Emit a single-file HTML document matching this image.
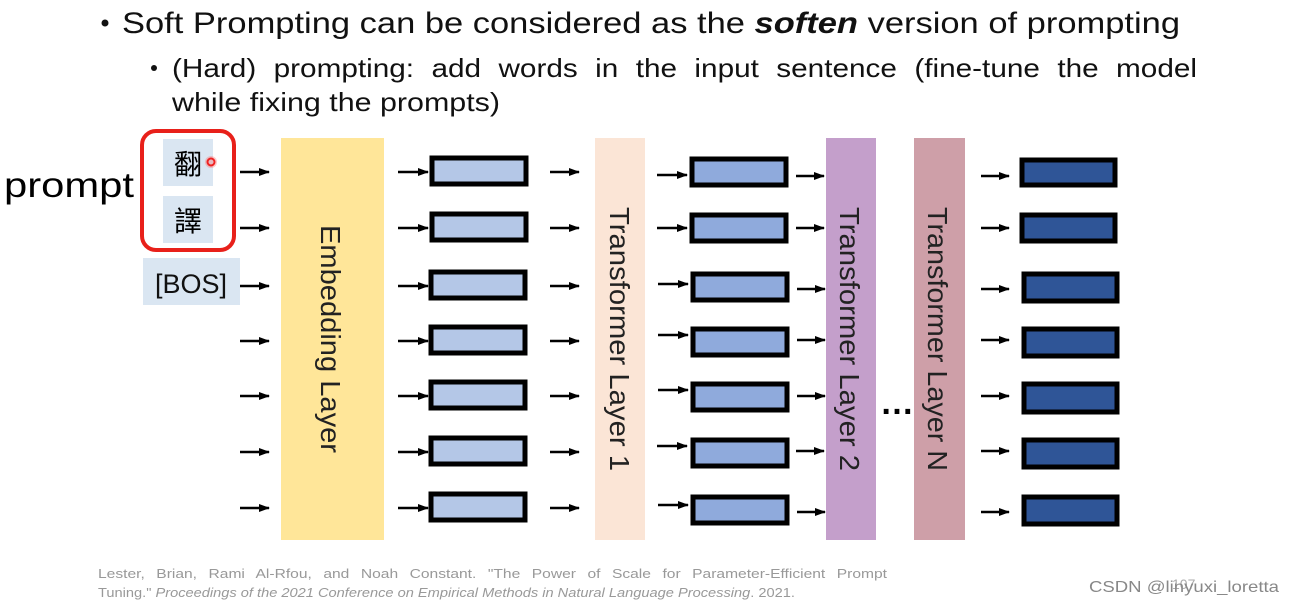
<!DOCTYPE html>
<html><head><meta charset="utf-8"><style>
body{margin:0;background:#fff}
svg{display:block}
</style></head><body>
<svg width="1294" height="607" viewBox="0 0 1294 607" xmlns="http://www.w3.org/2000/svg" font-family="Liberation Sans, sans-serif">
<defs>
<marker id="a" markerWidth="11" markerHeight="10" refX="10" refY="5" orient="auto" markerUnits="userSpaceOnUse"><path d="M0,1 L11,5 L0,9 z" fill="#000"/></marker>
</defs>
<circle cx="105" cy="23" r="3.5" fill="#111"/>
<text x="122" y="33" font-size="30" fill="#111" textLength="1058" lengthAdjust="spacingAndGlyphs">Soft Prompting can be considered as the <tspan font-weight="bold" font-style="italic">soften</tspan> version of prompting</text>
<circle cx="154" cy="68" r="3" fill="#111"/>
<text x="172" y="77" font-size="26" fill="#111" textLength="1025" lengthAdjust="spacingAndGlyphs" word-spacing="8">(Hard) prompting: add words in the input sentence (fine-tune the model</text>
<text x="172" y="111" font-size="26" fill="#111" textLength="328" lengthAdjust="spacingAndGlyphs">while fixing the prompts)</text>
<text x="4" y="197" font-size="35" fill="#000" textLength="130" lengthAdjust="spacingAndGlyphs">prompt</text>
<rect x="163" y="139" width="50" height="47" fill="#DAE6F2"/>
<rect x="163" y="196" width="50" height="47" fill="#DAE6F2"/>
<text x="188" y="174" font-size="28" text-anchor="middle" font-family="Noto Sans CJK TC, sans-serif">翻</text>
<text x="188" y="231" font-size="28" text-anchor="middle" font-family="Noto Sans CJK TC, sans-serif">譯</text>
<circle cx="211" cy="162" r="6" fill="#f66" opacity="0.35"/>
<circle cx="211" cy="162" r="3.5" fill="none" stroke="#e22" stroke-width="2"/>
<rect x="142" y="131" width="92" height="119" rx="14" fill="none" stroke="#E8201A" stroke-width="4"/>
<rect x="143" y="258" width="97" height="47" fill="#DAE6F2"/>
<text x="191" y="293" font-size="27" text-anchor="middle" fill="#111">[BOS]</text>
<rect x="281" y="138" width="103" height="402" fill="#FFE699"/>
<text transform="translate(321,339) rotate(90)" font-size="28" text-anchor="middle" fill="#222" textLength="228" lengthAdjust="spacingAndGlyphs">Embedding Layer</text>
<rect x="595" y="138" width="50" height="402" fill="#FBE5D6"/>
<text transform="translate(610,339) rotate(90)" font-size="28" text-anchor="middle" fill="#222" textLength="264" lengthAdjust="spacingAndGlyphs">Transformer Layer 1</text>
<rect x="826" y="138" width="50" height="402" fill="#C49FCB"/>
<text transform="translate(840,339) rotate(90)" font-size="28" text-anchor="middle" fill="#222" textLength="264" lengthAdjust="spacingAndGlyphs">Transformer Layer 2</text>
<rect x="914" y="138" width="51" height="402" fill="#CE9FA8"/>
<text transform="translate(928,339) rotate(90)" font-size="28" text-anchor="middle" fill="#222" textLength="264" lengthAdjust="spacingAndGlyphs">Transformer Layer N</text>
<text x="897" y="414" font-size="34" text-anchor="middle" font-weight="bold">…</text>
<g stroke="#000" stroke-width="2.5">
<line x1="240" y1="172" x2="269" y2="172" marker-end="url(#a)"/>
<line x1="240" y1="228" x2="269" y2="228" marker-end="url(#a)"/>
<line x1="240" y1="286" x2="269" y2="286" marker-end="url(#a)"/>
<line x1="240" y1="341" x2="269" y2="341" marker-end="url(#a)"/>
<line x1="240" y1="396" x2="269" y2="396" marker-end="url(#a)"/>
<line x1="240" y1="452" x2="269" y2="452" marker-end="url(#a)"/>
<line x1="240" y1="508" x2="269" y2="508" marker-end="url(#a)"/>
<line x1="398" y1="172" x2="428" y2="172" marker-end="url(#a)"/>
<line x1="398" y1="228" x2="428" y2="228" marker-end="url(#a)"/>
<line x1="398" y1="286" x2="428" y2="286" marker-end="url(#a)"/>
<line x1="398" y1="341" x2="428" y2="341" marker-end="url(#a)"/>
<line x1="398" y1="396" x2="428" y2="396" marker-end="url(#a)"/>
<line x1="398" y1="452" x2="428" y2="452" marker-end="url(#a)"/>
<line x1="398" y1="508" x2="428" y2="508" marker-end="url(#a)"/>
<line x1="550" y1="172" x2="579" y2="172" marker-end="url(#a)"/>
<line x1="550" y1="228" x2="579" y2="228" marker-end="url(#a)"/>
<line x1="550" y1="286" x2="579" y2="286" marker-end="url(#a)"/>
<line x1="550" y1="341" x2="579" y2="341" marker-end="url(#a)"/>
<line x1="550" y1="396" x2="579" y2="396" marker-end="url(#a)"/>
<line x1="550" y1="452" x2="579" y2="452" marker-end="url(#a)"/>
<line x1="550" y1="508" x2="579" y2="508" marker-end="url(#a)"/>
<line x1="657" y1="175" x2="687" y2="175" marker-end="url(#a)"/>
<line x1="657" y1="228" x2="687" y2="228" marker-end="url(#a)"/>
<line x1="658" y1="284" x2="688" y2="284" marker-end="url(#a)"/>
<line x1="658" y1="335" x2="688" y2="335" marker-end="url(#a)"/>
<line x1="658" y1="390" x2="688" y2="390" marker-end="url(#a)"/>
<line x1="657" y1="446" x2="687" y2="446" marker-end="url(#a)"/>
<line x1="658" y1="505" x2="688" y2="505" marker-end="url(#a)"/>
<line x1="796" y1="176" x2="824" y2="176" marker-end="url(#a)"/>
<line x1="796" y1="228" x2="824" y2="228" marker-end="url(#a)"/>
<line x1="797" y1="289" x2="825" y2="289" marker-end="url(#a)"/>
<line x1="797" y1="340" x2="825" y2="340" marker-end="url(#a)"/>
<line x1="797" y1="396" x2="825" y2="396" marker-end="url(#a)"/>
<line x1="796" y1="451" x2="824" y2="451" marker-end="url(#a)"/>
<line x1="797" y1="512" x2="825" y2="512" marker-end="url(#a)"/>
<line x1="981" y1="176" x2="1009" y2="176" marker-end="url(#a)"/>
<line x1="981" y1="228" x2="1009" y2="228" marker-end="url(#a)"/>
<line x1="981" y1="289" x2="1009" y2="289" marker-end="url(#a)"/>
<line x1="981" y1="340" x2="1009" y2="340" marker-end="url(#a)"/>
<line x1="981" y1="396" x2="1009" y2="396" marker-end="url(#a)"/>
<line x1="981" y1="451" x2="1009" y2="451" marker-end="url(#a)"/>
<line x1="981" y1="512" x2="1009" y2="512" marker-end="url(#a)"/>
</g>
<g stroke="#000" stroke-width="5" fill="#B4C7E7">
<rect x="432" y="158" width="94" height="26"/>
<rect x="432" y="214" width="94" height="26"/>
<rect x="431" y="272" width="94" height="26"/>
<rect x="431" y="327" width="94" height="26"/>
<rect x="431" y="382" width="94" height="26"/>
<rect x="431" y="438" width="94" height="26"/>
<rect x="431" y="494" width="94" height="26"/>
</g>
<g stroke="#000" stroke-width="5" fill="#8FAADC">
<rect x="692" y="159" width="94" height="26"/>
<rect x="692" y="215" width="94" height="26"/>
<rect x="693" y="274" width="94" height="26"/>
<rect x="693" y="329" width="94" height="26"/>
<rect x="693" y="384" width="94" height="26"/>
<rect x="693" y="440" width="94" height="26"/>
<rect x="693" y="497" width="94" height="26"/>
</g>
<g stroke="#000" stroke-width="5" fill="#2F5597">
<rect x="1022" y="160" width="93" height="25"/>
<rect x="1022" y="215" width="93" height="26"/>
<rect x="1024" y="274" width="93" height="27"/>
<rect x="1024" y="329" width="93" height="27"/>
<rect x="1024" y="384" width="93" height="28"/>
<rect x="1024" y="440" width="93" height="27"/>
<rect x="1024" y="497" width="93" height="27"/>
</g>
<text x="98" y="578" font-size="13" fill="#999" textLength="789" lengthAdjust="spacingAndGlyphs" word-spacing="6">Lester, Brian, Rami Al-Rfou, and Noah Constant. "The Power of Scale for Parameter-Efficient Prompt</text>
<text x="98" y="597" font-size="13" fill="#999" textLength="697" lengthAdjust="spacingAndGlyphs">Tuning." <tspan font-style="italic">Proceedings of the 2021 Conference on Empirical Methods in Natural Language Processing</tspan>. 2021.</text>
<text x="1172" y="589" font-size="14" fill="#aaa">107</text>
<text x="1089" y="592" font-size="16" fill="#888" textLength="190" lengthAdjust="spacingAndGlyphs">CSDN @linyuxi_loretta</text>
</svg>
</body></html>
